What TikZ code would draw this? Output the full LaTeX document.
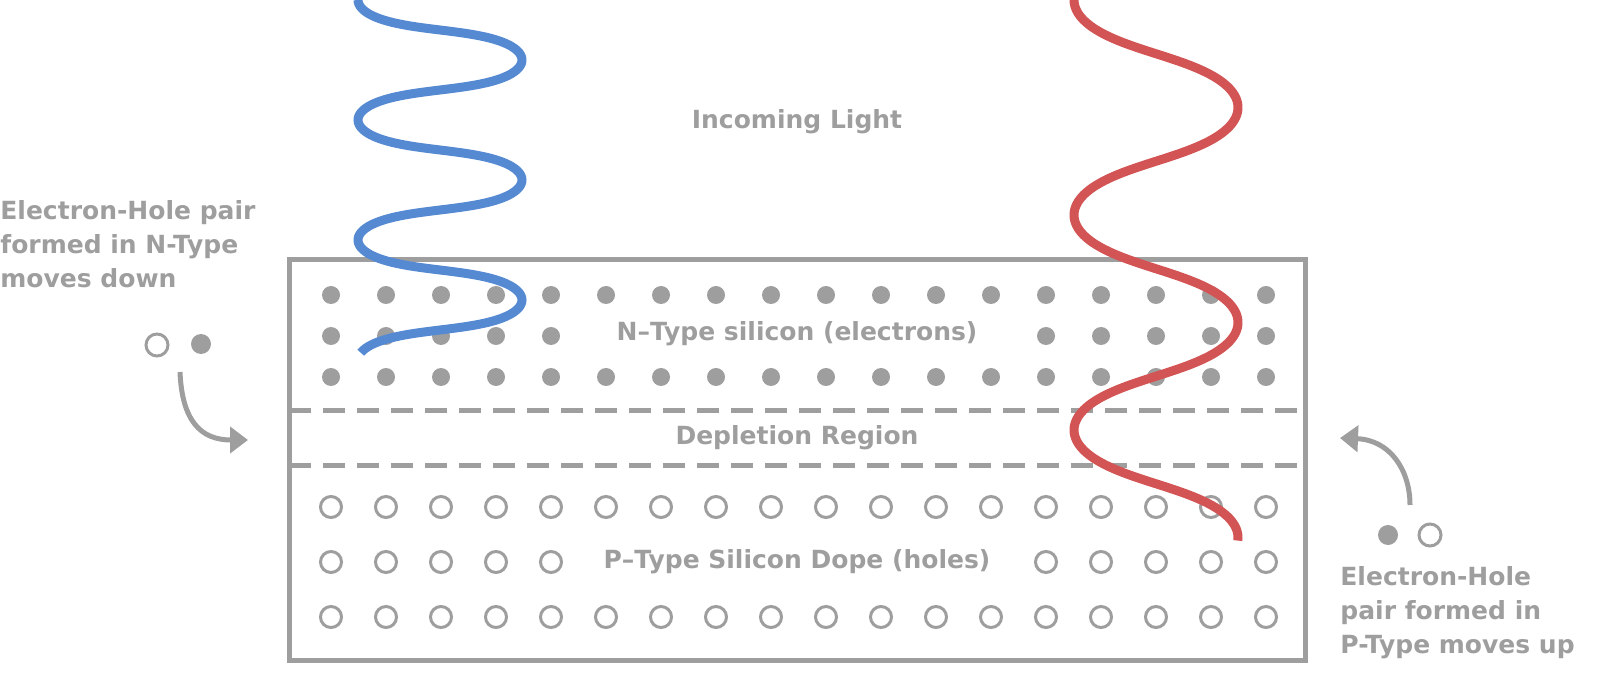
\documentclass[tikz,border=0pt]{standalone}
\usepackage{fontspec}
\setmainfont{DejaVu Sans}
\usetikzlibrary{arrows.meta}
\definecolor{gr}{HTML}{9E9E9E}
\definecolor{bl}{HTML}{558AD3}
\definecolor{rd}{HTML}{D35454}
\begin{document}
\begin{tikzpicture}[x=0.5pt,y=-0.5pt,
  lbl/.style={text=gr,font=\fontsize{12.5}{17}\selectfont\bfseries},
  edot/.style={circle,fill=gr,inner sep=0pt,minimum size=9pt},
  hole/.style={circle,draw=gr,line width=1.5pt,inner sep=0pt,minimum size=10.5pt},
  wave/.style={line width=4.5pt},
  curvarrow/.style={draw=gr,line width=2.5pt,-{Triangle[length=9pt,width=13pt]}}]
\useasboundingbox (0,0) rectangle (1600,678);
\draw[gr,line width=2.5pt] (289,260) rectangle (1305,660);
\draw[gr,line width=2.5pt,dash pattern=on 11pt off 6pt] (289,411) -- (1305,411);
\draw[gr,line width=2.5pt,dash pattern=on 11pt off 6pt] (289,465) -- (1305,465);
\foreach \i in {0,...,17}{
  \pgfmathsetmacro{\xx}{331+\i*55}
  \node[edot] at (\xx,295) {};
  \node[edot] at (\xx,377) {};
  \node[hole] at (\xx,507) {};
  \node[hole] at (\xx,617) {};
}
\foreach \i in {0,...,4,13,14,15,16,17}{
  \pgfmathsetmacro{\xx}{331+\i*55}
  \node[edot] at (\xx,336) {};
  \node[hole] at (\xx,562) {};
}
\draw[bl,wave] plot[domain=0:355,samples=240,variable=\t,smooth] ({440-82*cos(3*\t)},{\t+4.5*sin(6*\t)});
\draw[rd,wave] plot[domain=0:540,samples=300,variable=\t,smooth] ({1156-82*cos(1.6744*\t)},{\t+4*sin(3.3488*\t)});
\node[lbl] (light) at (797,122) {Incoming Light};
\node[lbl] (ntype) at (797,334) {N–Type silicon (electrons)};
\node[lbl] (dep) at (797,438) {Depletion Region};
\node[lbl] (ptype) at (797,562) {P–Type Silicon Dope (holes)};
\node[lbl,anchor=north west,align=left,inner sep=0pt] (ltext) at (0,200) {Electron-Hole pair\\formed in N-Type\\moves down};
\node[lbl,anchor=north west,align=left,inner sep=0pt] (rtext) at (1340,566) {Electron-Hole\\pair formed in\\P-Type moves up};
\node[hole,minimum size=11pt] (lh) at (157,345) {};
\node[edot,minimum size=10pt] (le) at (201,344) {};
\node[edot,minimum size=10pt] (re) at (1388,535) {};
\node[hole,minimum size=11pt] (rh) at (1430,535) {};
\coordinate (la) at (180,372);
\coordinate (lb) at (248,440);
\coordinate (ra) at (1410,505);
\coordinate (rb) at (1340,438);
\draw[curvarrow] (la) .. controls (182,420) and (200,440) .. (lb);
\draw[curvarrow] (ra) .. controls (1410,470) and (1390,440) .. (rb);
\end{tikzpicture}
\end{document}
